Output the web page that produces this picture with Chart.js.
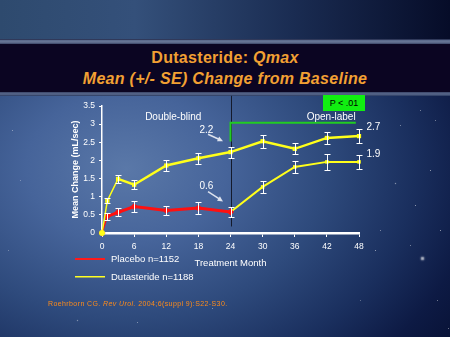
<!DOCTYPE html>
<html>
<head>
<meta charset="utf-8">
<script src="https://cdn.jsdelivr.net/npm/chart.js@4/dist/chart.umd.min.js"></script>
<style>
  html, body { margin:0; padding:0; }
  body {
    width:450px; height:337px; overflow:hidden; position:relative;
    font-family: "Liberation Sans", Arial, sans-serif;
    background: radial-gradient(ellipse 400px 300px at 28% 50%, #5a78a8 0%, #46649a 25%, #2e4a7c 50%, #1a2f5e 72%, #0d1a44 88%, #081236 100%);
  }
  #topgrad { position:absolute; left:0; top:0; width:450px; height:40px;
    background: linear-gradient(90deg, #2e4a6e 0%, #34507a 30%, #1a2c52 65%, #060c28 100%); }
  #strip1 { position:absolute; left:0; top:39px; width:450px; height:5px;
    background: linear-gradient(180deg, #1a2040 0%, #5d6c8e 30%, #6a7898 60%, #3a4466 100%); }
  #band { position:absolute; left:0; top:44px; width:450px; height:48px; background:#0b0522; }
  #strip2 { position:absolute; left:0; top:92px; width:450px; height:4px;
    background: linear-gradient(180deg, #3a4466 0%, #5a6a8e 50%, #2a3a60 100%); }
  #title { position:absolute; left:0; top:47px; width:450px; text-align:center; color:#f2a033;
    font-weight:bold; font-size:16px; line-height:21px; letter-spacing:0.3px; }
  #title i { font-style:italic; }
  #stars { position:absolute; left:0; top:0; width:1px; height:1px; background:transparent;
    box-shadow: 422px 258px 2px 1px rgba(255,255,255,0.8), 395px 183px 1px 0 rgba(255,255,255,0.7),
      415px 205px 0 0 rgba(255,255,255,0.5), 430px 170px 0 0 rgba(255,255,255,0.5),
      410px 245px 0 0 rgba(255,255,255,0.4), 437px 300px 0 0 rgba(255,255,255,0.4),
      380px 230px 0 0 rgba(255,255,255,0.4), 77px 320px 1px 0 rgba(255,255,255,0.6),
      12px 130px 0 0 rgba(255,255,255,0.4), 137px 322px 0 0 rgba(255,255,255,0.4),
      212px 308px 0 0 rgba(255,255,255,0.4), 420px 110px 0 0 rgba(255,255,255,0.4),
      435px 120px 0 0 rgba(255,255,255,0.4), 375px 250px 0 0 rgba(255,255,255,0.5),
      440px 230px 0 0 rgba(255,255,255,0.5), 360px 300px 0 0 rgba(255,255,255,0.3),
      20px 180px 0 0 rgba(255,255,255,0.3), 8px 250px 0 0 rgba(255,255,255,0.3),
      400px 125px 0 0 rgba(255,255,255,0.4), 448px 328px 0 0 rgba(255,255,255,0.4); }
  #chartwrap { position:absolute; left:0; top:0; width:450px; height:337px; }
  #pbox { position:absolute; left:323px; top:95px; width:42px; height:16px; background:#11ee11;
    color:#000; font-size:9px; line-height:16px; text-align:center; }
  .leg { position:absolute; color:#fff; font-size:9.5px; line-height:12px; }
  .legline { position:absolute; left:75px; width:30px; height:2px; }
</style>
<style>
  #cite { position:absolute; left:48px; top:299px; color:#ff8c1a; font-size:7px; line-height:10px; letter-spacing:0.4px; }
</style>
</head>
<body>
<div id="topgrad"></div>
<div id="strip1"></div>
<div id="band"></div>
<div id="strip2"></div>
<div id="title">Dutasteride: <i>Qmax</i><br><i>Mean (+/- SE) Change from Baseline</i></div>
<div id="stars"></div>
<div id="chartwrap"><canvas id="c" width="450" height="337"></canvas></div>
<div id="pbox">P &lt; .01</div>
<div class="legline" style="top:258px;background:#ff1a1a;"></div>
<div class="leg" style="left:111px;top:253px;">Placebo n=1152</div>
<div class="legline" style="top:276px;height:1px;background:#ffff22;box-shadow:0 1px 0 rgba(255,255,34,0.5);"></div>
<div class="leg" style="left:111px;top:271px;">Dutasteride n=1188</div>
<div id="cite">Roehrborn CG. <i>Rev Urol.</i> 2004;6(suppl 9):S22-S30.</div>
<script>
// ---- data ----
const dutMonths = [0, 1, 3, 6, 12, 18, 24, 30, 36, 42, 48];
const dutValues = [0, 0.89, 1.49, 1.33, 1.86, 2.06, 2.23, 2.53, 2.32, 2.62, 2.67];
const dutSE     = [0, 0.07, 0.12, 0.12, 0.14, 0.15, 0.15, 0.18, 0.15, 0.16, 0.19];

const plaMonths = [0, 1, 3, 6, 12, 18, 24];
const plaValues = [0, 0.46, 0.57, 0.73, 0.62, 0.69, 0.58];
const plaSE     = [0, 0.09, 0.11, 0.16, 0.13, 0.16, 0.15];

const olMonths = [24, 30, 36, 42, 48];
const olValues = [0.58, 1.27, 1.82, 1.96, 1.96];
const olSE     = [0, 0.17, 0.17, 0.21, 0.20];

const xTicks = [0, 6, 12, 18, 24, 30, 36, 42, 48];
const yTicks = [0, 0.5, 1, 1.5, 2, 2.5, 3, 3.5];

// annotation texts with data-space anchors
const annoTexts = [
  { text: 'Double-blind', x: 13.3, y: 3.18, align: 'center' },
  { text: 'Open-label',   x: 42.8, y: 3.18, align: 'center' },
  { text: '2.2', x: 19.5, y: 2.83, align: 'center' },
  { text: '0.6', x: 19.5, y: 1.29, align: 'center' },
  { text: '2.7', x: 49.4, y: 2.92, align: 'left' },
  { text: '1.9', x: 49.4, y: 2.18, align: 'left' }
];
const arrows = [
  { x0: 19.8, y0: 2.72, x1: 22.6, y1: 2.53 },
  { x0: 19.8, y0: 1.14, x1: 22.6, y1: 0.87 }
];
const bracket = { x0: 24, x1: 47.4, yLow: 2.52, yHigh: 3.04 };
const divider = { x: 24, yLow: 0.18, yHigh: 3.78 };

const FONT = '"Liberation Sans", Arial, sans-serif';
const toPts = (xs, ys) => xs.map((x, i) => ({ x: x, y: ys[i] }));

const overlay = {
  id: 'overlay',
  beforeDatasetsDraw(chart) {
    const { ctx, scales: { x, y } } = chart;
    ctx.save();
    ctx.strokeStyle = '#141a2c';
    ctx.lineWidth = 1;
    ctx.beginPath();
    const dx = Math.round(x.getPixelForValue(divider.x)) + 0.5;
    ctx.moveTo(dx, y.getPixelForValue(divider.yHigh));
    ctx.lineTo(dx, y.getPixelForValue(divider.yLow));
    ctx.stroke();
    ctx.strokeStyle = '#22cc22';
    ctx.lineWidth = 2;
    ctx.beginPath();
    ctx.moveTo(x.getPixelForValue(bracket.x0), y.getPixelForValue(bracket.yLow));
    ctx.lineTo(x.getPixelForValue(bracket.x0), y.getPixelForValue(bracket.yHigh));
    ctx.lineTo(x.getPixelForValue(bracket.x1), y.getPixelForValue(bracket.yHigh));
    ctx.stroke();
    ctx.restore();
  },
  afterDatasetsDraw(chart) {
    const { ctx, scales: { x, y } } = chart;
    ctx.save();
    const groups = [[dutMonths, dutValues, dutSE], [plaMonths, plaValues, plaSE], [olMonths, olValues, olSE]];
    ctx.strokeStyle = '#ffffff';
    ctx.lineWidth = 1;
    groups.forEach(([xs, ys, se]) => {
      xs.forEach((m, i) => {
        if (!se[i]) return;
        const px = Math.round(x.getPixelForValue(m)) + 0.5;
        const t = Math.round(y.getPixelForValue(ys[i] + se[i])) + 0.5;
        const b = Math.round(y.getPixelForValue(ys[i] - se[i])) + 0.5;
        ctx.beginPath();
        ctx.moveTo(px, t); ctx.lineTo(px, b);
        ctx.moveTo(px - 3, t); ctx.lineTo(px + 3, t);
        ctx.moveTo(px - 3, b); ctx.lineTo(px + 3, b);
        ctx.stroke();
      });
    });
    ctx.strokeStyle = '#dde2ee';
    ctx.fillStyle = '#dde2ee';
    ctx.lineWidth = 1.5;
    arrows.forEach(a => {
      const x0 = x.getPixelForValue(a.x0), y0 = y.getPixelForValue(a.y0);
      const x1 = x.getPixelForValue(a.x1), y1 = y.getPixelForValue(a.y1);
      const ang = Math.atan2(y1 - y0, x1 - x0);
      ctx.beginPath(); ctx.moveTo(x0, y0); ctx.lineTo(x1 - 4 * Math.cos(ang), y1 - 4 * Math.sin(ang)); ctx.stroke();
      ctx.beginPath();
      ctx.moveTo(x1, y1);
      ctx.lineTo(x1 - 6 * Math.cos(ang - 0.45), y1 - 6 * Math.sin(ang - 0.45));
      ctx.lineTo(x1 - 6 * Math.cos(ang + 0.45), y1 - 6 * Math.sin(ang + 0.45));
      ctx.closePath(); ctx.fill();
    });
    ctx.fillStyle = '#ffffff';
    ctx.font = '10px ' + FONT;
    ctx.textBaseline = 'middle';
    annoTexts.forEach(t => {
      ctx.textAlign = t.align;
      ctx.fillText(t.text, x.getPixelForValue(t.x), y.getPixelForValue(t.y));
    });
    ctx.restore();
  }
};

new Chart(document.getElementById('c'), {
  type: 'line',
  data: {
    datasets: [
      {
        label: 'Placebo n=1152',
        data: toPts(olMonths, olValues),
        borderColor: '#ffff1a', backgroundColor: '#ffff1a',
        borderWidth: 2, pointStyle: 'rect', pointRadius: 2.5, pointHoverRadius: 2.5,
        pointBorderWidth: 0, clip: false, order: 3
      },
      {
        label: 'Placebo n=1152',
        data: toPts(plaMonths, plaValues),
        borderColor: '#ff1010', backgroundColor: '#ff1010',
        borderWidth: 3, pointStyle: 'rectRot', pointRadius: 3.5, pointHoverRadius: 3.5,
        pointBorderWidth: 0, clip: false, order: 2,
        segment: { borderWidth: c => c.p0DataIndex < 1 ? 1.5 : 3 }
      },
      {
        label: 'Dutasteride n=1188',
        data: toPts(dutMonths, dutValues),
        borderColor: '#ffff1a', backgroundColor: '#ffff1a',
        borderWidth: 2.5,
        pointStyle: dutMonths.map(m => m === 0 ? 'circle' : 'rect'),
        pointRadius: 3, pointHoverRadius: 3,
        pointBorderWidth: 0, clip: false, order: 1,
        segment: { borderWidth: c => c.p0DataIndex < 2 ? 1.5 : 2.5 }
      }
    ]
  },
  options: {
    responsive: false, animation: false, events: [],
    layout: { padding: { left: 0, top: 106, right: 91, bottom: 0 } },
    plugins: { legend: { display: false }, tooltip: { enabled: false } },
    scales: {
      x: {
        type: 'linear', min: 0, max: 48,
        afterBuildTicks: s => { s.ticks = xTicks.map(v => ({ value: v })); },
        ticks: { color: '#ffffff', font: { size: 8.5, family: FONT }, padding: 5, callback: v => String(v) },
        grid: { drawOnChartArea: false, color: '#ffffff', tickLength: 4, lineWidth: 1 },
        border: { color: '#ffffff', width: 2.5 },
        title: { display: true, text: 'Treatment Month', color: '#ffffff', font: { size: 9.5, family: FONT }, padding: { top: 0, bottom: 68 } },
        afterFit: s => { s.height = 104; }
      },
      y: {
        type: 'linear', min: 0, max: 3.5,
        afterBuildTicks: s => { s.ticks = yTicks.map(v => ({ value: v })); },
        ticks: { color: '#ffffff', font: { size: 8.5, family: FONT }, padding: 4, callback: v => String(v) },
        grid: { drawOnChartArea: false, color: '#ffffff', tickLength: 3, lineWidth: 1 },
        border: { color: '#ffffff', width: 1.5 },
        title: { display: true, text: 'Mean Change (mL/sec)', color: '#ffffff', font: { size: 9, family: FONT, weight: 'bold' }, padding: { top: 70, bottom: 0 } },
        afterFit: s => { s.width = 102; }
      }
    }
  },
  plugins: [overlay]
});
</script>
</body>
</html>
